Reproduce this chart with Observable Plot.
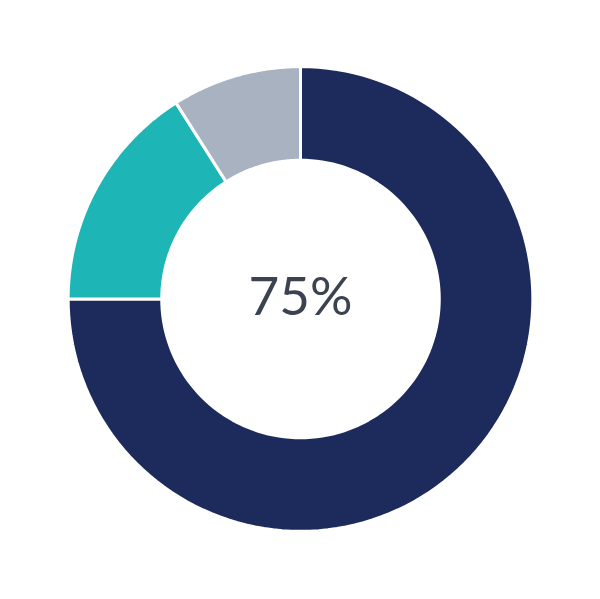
<!DOCTYPE html>
<html>
<head>
<meta charset="utf-8">
<script src="https://cdn.jsdelivr.net/npm/d3@7"></script>
<script src="https://cdn.jsdelivr.net/npm/@observablehq/plot@0.6"></script>
<style>
  html, body { margin: 0; padding: 0; background: #ffffff; }
  #chart { width: 600px; height: 599px; }
</style>
</head>
<body>
<div id="chart"></div>
<script>
const categories = ["Segment A", "Segment B", "Segment C"];
const values = [75, 16, 9];
const colors = ["#1c2b5b", "#1db5b6", "#a8b2c1"];
const centerLabel = "75%";

const outerR = 1.008;
const innerR = 0.602;
const steps = 120;

const arcs = d3.pie().sort(null).value(d => d)(values);
const points = [];
arcs.forEach((a, i) => {
  const cat = categories[i];
  for (let s = 0; s <= steps; s++) {
    const t = a.startAngle + (a.endAngle - a.startAngle) * s / steps;
    points.push({category: cat, x: outerR * Math.sin(t), y: outerR * Math.cos(t)});
  }
  for (let s = steps; s >= 0; s--) {
    const t = a.startAngle + (a.endAngle - a.startAngle) * s / steps;
    points.push({category: cat, x: innerR * Math.sin(t), y: innerR * Math.cos(t)});
  }
});

const chart = Plot.plot({
  width: 600,
  height: 599,
  margin: 0,
  x: {domain: [-1.3015, 1.3015], axis: null},
  y: {domain: [-1.3037, 1.2950], axis: null},
  color: {domain: categories, range: colors},
  style: {background: "#ffffff"},
  marks: [
    Plot.line(points, {
      x: "x", y: "y", z: "category",
      fill: "category", stroke: "#ffffff", strokeWidth: 3,
      curve: "linear-closed"
    }),
    Plot.text([centerLabel], {
      x: () => 0, y: () => 0.005, text: d => d,
      fontSize: 53, fontFamily: "Lato, 'Open Sans', sans-serif", fontWeight: 400,
      fill: "#3b4250", textAnchor: "middle", lineAnchor: "middle"
    })
  ]
});
document.getElementById("chart").appendChild(chart);
</script>
</body>
</html>
